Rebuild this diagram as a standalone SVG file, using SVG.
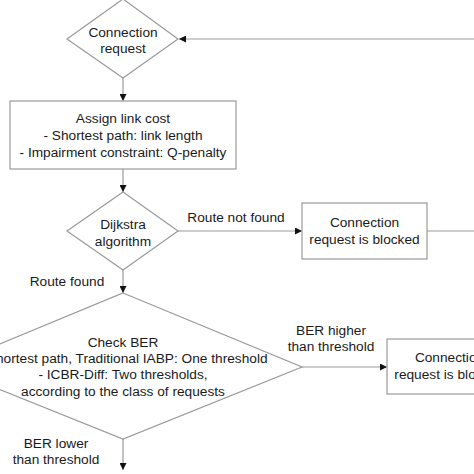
<svg xmlns="http://www.w3.org/2000/svg" width="474" height="474" viewBox="0 0 474 474">
<defs>
<style>
.s{fill:#fff;stroke:#9a9a9a;stroke-width:1.2}
.c{fill:none;stroke:#9a9a9a;stroke-width:1.2}
text{font-family:"Liberation Sans",Arial,sans-serif;font-size:13.7px;fill:#1a1a1a;text-anchor:middle}
</style>
<marker id="ah" viewBox="0 0 10 10" refX="10" refY="5" markerWidth="7" markerHeight="7" markerUnits="userSpaceOnUse" orient="auto">
<path d="M0,0 L10,5 L0,10 z" fill="#111"/>
</marker>
</defs>
<rect width="474" height="474" fill="#fff"/>
<g id="connectors">
<path class="c" d="M474,39 L179,39" marker-end="url(#ah)"/>
<path class="c" d="M123,78 L123,101" marker-end="url(#ah)"/>
<path class="c" d="M123,169 L123,192" marker-end="url(#ah)"/>
<path class="c" d="M178,231 L302,231" marker-end="url(#ah)"/>
<path class="c" d="M427,231 L474,231"/>
<path class="c" d="M123,270 L123,293" marker-end="url(#ah)"/>
<path class="c" d="M302,367 L387,367" marker-end="url(#ah)"/>
<path class="c" d="M123,439 L123,470" marker-end="url(#ah)"/>
<text x="236" y="222">Route not found</text>
<text x="67" y="286">Route found</text>
<text x="331" y="335">BER higher</text>
<text x="331" y="351">than threshold</text>
<text x="56" y="448">BER lower</text>
<text x="56" y="464">than threshold</text>
</g>
<g id="n1">
<polygon class="s" points="123,-1 178,39 123,78 67,39"/>
<text x="123" y="37">Connection</text>
<text x="123" y="53">request</text>
</g>
<g id="n2">
<rect class="s" x="10" y="101" width="226" height="68"/>
<text x="123" y="123">Assign link cost</text>
<text x="123" y="140">- Shortest path: link length</text>
<text x="123" y="157">- Impairment constraint: Q-penalty</text>
</g>
<g id="n3">
<polygon class="s" points="123,192 178,231 123,270 67,231"/>
<text x="123" y="229">Dijkstra</text>
<text x="123" y="246">algorithm</text>
</g>
<g id="n4">
<rect class="s" x="302" y="203" width="125" height="56"/>
<text x="364.5" y="227">Connection</text>
<text x="364.5" y="244">request is blocked</text>
</g>
<g id="n5">
<polygon class="s" points="123,293 302,367 123,439 -56,367"/>
<text x="123" y="347">Check BER</text>
<text x="123" y="363">- Shortest path, Traditional IABP: One threshold</text>
<text x="123" y="379">- ICBR-Diff: Two thresholds,</text>
<text x="123" y="396">according to the class of requests</text>
</g>
<g id="n6">
<rect class="s" x="387" y="339" width="125" height="55"/>
<text x="449.5" y="362">Connection</text>
<text x="449.5" y="379">request is blocked</text>
</g>
</svg>
